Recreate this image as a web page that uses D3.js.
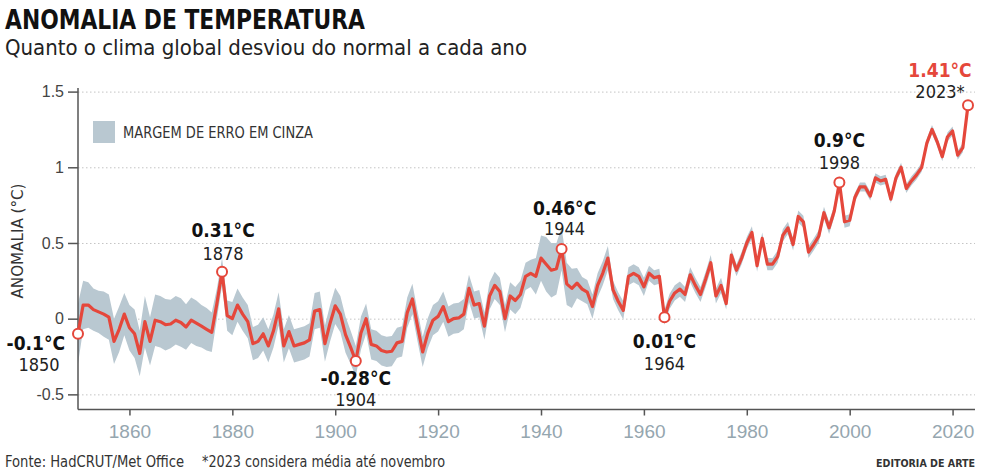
<!DOCTYPE html>
<html lang="pt">
<head>
<meta charset="utf-8">
<script src="https://cdn.jsdelivr.net/npm/d3@7"></script>
<style>
  body { margin: 0; background: #fff; }
  svg { display: block; font-family: 'Liberation Sans Narrow', 'DejaVu Sans Condensed', Roboto, sans-serif; }
  .grid line { stroke: #c4c4c4; stroke-dasharray: 1.5 2.5; }
  .grid path { display: none; }
  .axis path, .axis line { stroke: #555; stroke-width: 1.5; }
</style>
</head>
<body>
<div id="chart"></div>
<script>
// anomalia anual (°C), 1850 a 2023
const firstYear = 1850;
const anomaly = [
  -0.10, 0.09, 0.09, 0.06, 0.045, 0.03, 0.01, -0.15, -0.07, 0.03,          // 1850
  -0.06, -0.10, -0.23, -0.02, -0.15, -0.01, -0.02, -0.04, -0.035, -0.01,   // 1860
  -0.025, -0.055, -0.01, -0.03, -0.05, -0.07, -0.09, 0.10, 0.31, 0.02,     // 1870
  0.00, 0.09, 0.03, -0.02, -0.165, -0.15, -0.10, -0.18, -0.08, 0.065,      // 1880
  -0.18, -0.085, -0.18, -0.17, -0.16, -0.14, 0.05, 0.06, -0.165, -0.03,    // 1890
  0.085, 0.03, -0.105, -0.19, -0.28, -0.095, 0.00, -0.17, -0.18, -0.21,    // 1900
  -0.22, -0.215, -0.16, -0.15, 0.04, 0.13, -0.05, -0.22, -0.095, -0.01,    // 1910
  0.015, 0.08, -0.02, 0.00, 0.005, 0.03, 0.20, 0.09, 0.10, -0.05,          // 1920
  0.15, 0.22, 0.18, 0.00, 0.15, 0.12, 0.16, 0.28, 0.30, 0.28,              // 1930
  0.40, 0.36, 0.32, 0.33, 0.46, 0.23, 0.20, 0.235, 0.195, 0.175,           // 1940
  0.08, 0.22, 0.30, 0.40, 0.19, 0.115, 0.055, 0.28, 0.30, 0.28,            // 1950
  0.21, 0.30, 0.27, 0.28, 0.01, 0.115, 0.17, 0.195, 0.16, 0.29,            // 1960
  0.22, 0.16, 0.26, 0.37, 0.15, 0.22, 0.10, 0.42, 0.32, 0.40,              // 1970
  0.50, 0.57, 0.35, 0.53, 0.36, 0.36, 0.41, 0.55, 0.60, 0.49,              // 1980
  0.675, 0.64, 0.44, 0.49, 0.545, 0.70, 0.60, 0.71, 0.90, 0.64,            // 1990
  0.65, 0.80, 0.87, 0.87, 0.81, 0.93, 0.91, 0.92, 0.79, 0.93,              // 2000
  1.00, 0.86, 0.91, 0.95, 1.00, 1.16, 1.25, 1.17, 1.07, 1.20,              // 2010
  1.24, 1.08, 1.13, 1.41                                                    // 2020
];

// margem de erro (meia largura da faixa cinza)
const margin = [
  0.20, 0.16, 0.15, 0.14, 0.14, 0.15, 0.15, 0.15, 0.15, 0.14,
  0.15, 0.16, 0.15, 0.17, 0.16, 0.17, 0.17, 0.17, 0.16, 0.16,
  0.16, 0.15, 0.15, 0.15, 0.14, 0.14, 0.13, 0.10, 0.09, 0.10,
  0.11, 0.11, 0.11, 0.11, 0.11, 0.11, 0.11, 0.11, 0.11, 0.11,
  0.11, 0.11, 0.11, 0.11, 0.11, 0.11, 0.12, 0.12, 0.12, 0.12,
  0.12, 0.12, 0.12, 0.11, 0.10, 0.11, 0.10, 0.10, 0.10, 0.10,
  0.10, 0.10, 0.10, 0.10, 0.10, 0.10, 0.10, 0.10, 0.10, 0.10,
  0.10, 0.10, 0.10, 0.10, 0.10, 0.10, 0.09, 0.09, 0.09, 0.09,
  0.09, 0.09, 0.09, 0.09, 0.09, 0.09, 0.09, 0.09, 0.09, 0.12,
  0.15, 0.18, 0.18, 0.17, 0.14, 0.14, 0.13, 0.10, 0.08, 0.08,
  0.08, 0.08, 0.08, 0.08, 0.06, 0.06, 0.06, 0.06, 0.06, 0.06,
  0.06, 0.05, 0.05, 0.05, 0.05, 0.05, 0.05, 0.05, 0.05, 0.05,
  0.05, 0.05, 0.05, 0.05, 0.05, 0.05, 0.04, 0.04, 0.04, 0.04,
  0.04, 0.04, 0.04, 0.04, 0.04, 0.04, 0.04, 0.04, 0.04, 0.04,
  0.04, 0.04, 0.04, 0.04, 0.04, 0.04, 0.04, 0.04, 0.04, 0.04,
  0.04, 0.03, 0.03, 0.03, 0.03, 0.03, 0.03, 0.03, 0.03, 0.03,
  0.03, 0.03, 0.03, 0.03, 0.03, 0.03, 0.03, 0.03, 0.03, 0.03,
  0.03, 0.03, 0.03, 0.03
];

const highlightYears = [1850, 1878, 1904, 1944, 1964, 1998, 2023];
const xTicks = [1860, 1880, 1900, 1920, 1940, 1960, 1980, 2000, 2020];
const yTicks = [-0.5, 0, 0.5, 1, 1.5];

const title = 'ANOMALIA DE TEMPERATURA';
const subtitle = 'Quanto o clima global desviou do normal a cada ano';
const yTitle = 'ANOMALIA (°C)';
const legendText = 'MARGEM DE ERRO EM CINZA';
const source = 'Fonte: HadCRUT/Met Office';
const note = '*2023 considera média até novembro';
const credit = 'EDITORIA DE ARTE';

const data = anomaly.map((v, i) => ({ year: firstYear + i, value: v, err: margin[i] }));

const width = 984;
const height = 476;
const red = '#e5473b';

const svg = d3.select('#chart')
  .append('svg')
  .attr('width', width)
  .attr('height', height)
  .attr('viewBox', `0 0 ${width} ${height}`);

const x = d3.scaleLinear().domain([1850, 2023]).range([78, 968]);
const y = d3.scaleLinear().domain([-0.6, 1.5]).range([409.5, 91.6]);

// squeeze long text into the width measured on the reference
function fit(sel, w) {
  return sel.attr('textLength', w).attr('lengthAdjust', 'spacingAndGlyphs');
}

// title block
fit(svg.append('text')
  .attr('x', 5).attr('y', 29)
  .attr('font-size', 27).attr('font-weight', 700).attr('fill', '#111')
  .text(title), 360);

fit(svg.append('text')
  .attr('x', 5).attr('y', 55)
  .attr('font-size', 22).attr('fill', '#222')
  .text(subtitle), 522);

// gridlines
svg.append('g')
  .attr('class', 'grid')
  .attr('transform', 'translate(78,0)')
  .call(d3.axisLeft(y).tickValues(yTicks).tickFormat('').tickSize(-(975 - 78)));

// uncertainty band
const area = d3.area()
  .x(d => x(d.year))
  .y0(d => y(d.value - d.err))
  .y1(d => y(d.value + d.err));

svg.append('path')
  .datum(data)
  .attr('d', area)
  .attr('fill', '#b9c8d1');

// legend
svg.append('rect')
  .attr('x', 93).attr('y', 121).attr('width', 22).attr('height', 22)
  .attr('fill', '#b9c8d1');
fit(svg.append('text')
  .attr('x', 123).attr('y', 138)
  .attr('font-size', 16).attr('fill', '#333')
  .text(legendText), 190);

// axes
const yAxis = svg.append('g')
  .attr('class', 'axis')
  .attr('transform', 'translate(78,0)')
  .call(d3.axisLeft(y).tickValues(yTicks).tickSize(10).tickPadding(4).tickFormat(d => String(d)));
yAxis.select('.domain').attr('d', `M0,88V${y(-0.6)}`);
yAxis.selectAll('text').attr('font-size', 16).attr('fill', '#444').attr('font-family', null);

const xAxis = svg.append('g')
  .attr('class', 'axis')
  .attr('transform', `translate(0,${y(-0.6)})`)
  .call(d3.axisBottom(x).tickValues(xTicks).tickSize(6).tickPadding(9).tickFormat(d => String(d)));
xAxis.select('.domain').attr('d', 'M78,0H975');
xAxis.selectAll('text').attr('font-size', 19).attr('fill', '#95a6af').attr('font-family', null);

fit(svg.append('text')
  .attr('transform', 'translate(23,241) rotate(-90)')
  .attr('text-anchor', 'middle')
  .attr('font-size', 15).attr('fill', '#333')
  .text(yTitle), 115);

// temperature line
const line = d3.line()
  .x(d => x(d.year))
  .y(d => y(d.value));

svg.append('path')
  .datum(data)
  .attr('d', line)
  .attr('fill', 'none')
  .attr('stroke', red)
  .attr('stroke-width', 3.2)
  .attr('stroke-linejoin', 'round');

// highlighted years
const highlights = data.filter(d => highlightYears.includes(d.year));

svg.append('g')
  .selectAll('circle')
  .data(highlights)
  .join('circle')
  .attr('cx', d => x(d.year))
  .attr('cy', d => y(d.value))
  .attr('r', 5)
  .attr('fill', '#fff')
  .attr('stroke', red)
  .attr('stroke-width', 2);

// where each label sits relative to its point: [value dx, value dy, year dx, year dy, anchor]
const labelPos = {
  1850: [-13, 16, -39, 37, 'end'],
  1878: [1, -35, 1, -12],
  1904: [0, 24, 0, 45],
  1944: [3, -34, 3, -14],
  1964: [0, 31, 0, 53],
  1998: [0, -35, 0, -13],
  2023: [-28, -28, -28, -7]
};

const fmt = v => String(v) + '°C';

highlights.forEach(d => {
  const [vx, vy, yx, yy, anchor] = labelPos[d.year];
  const cx = x(d.year), cy = y(d.value);
  svg.append('text')
    .attr('x', cx + vx).attr('y', cy + vy)
    .attr('text-anchor', anchor || 'middle')
    .attr('font-size', 19).attr('font-weight', 700)
    .attr('fill', d.year === 2023 ? red : '#111')
    .text(fmt(d.value));
  svg.append('text')
    .attr('x', cx + yx).attr('y', cy + yy)
    .attr('text-anchor', 'middle')
    .attr('font-size', 18).attr('fill', '#222')
    .text(d.year === 2023 ? d.year + '*' : d.year);
});

// footer
fit(svg.append('text')
  .attr('x', 5).attr('y', 467)
  .attr('font-size', 16).attr('fill', '#333')
  .text(source), 179);
fit(svg.append('text')
  .attr('x', 202).attr('y', 467)
  .attr('font-size', 16).attr('fill', '#333')
  .text(note), 243);
fit(svg.append('text')
  .attr('x', 876).attr('y', 467)
  .attr('font-size', 11).attr('font-weight', 600).attr('fill', '#333')
  .text(credit), 99);
</script>
</body>
</html>
